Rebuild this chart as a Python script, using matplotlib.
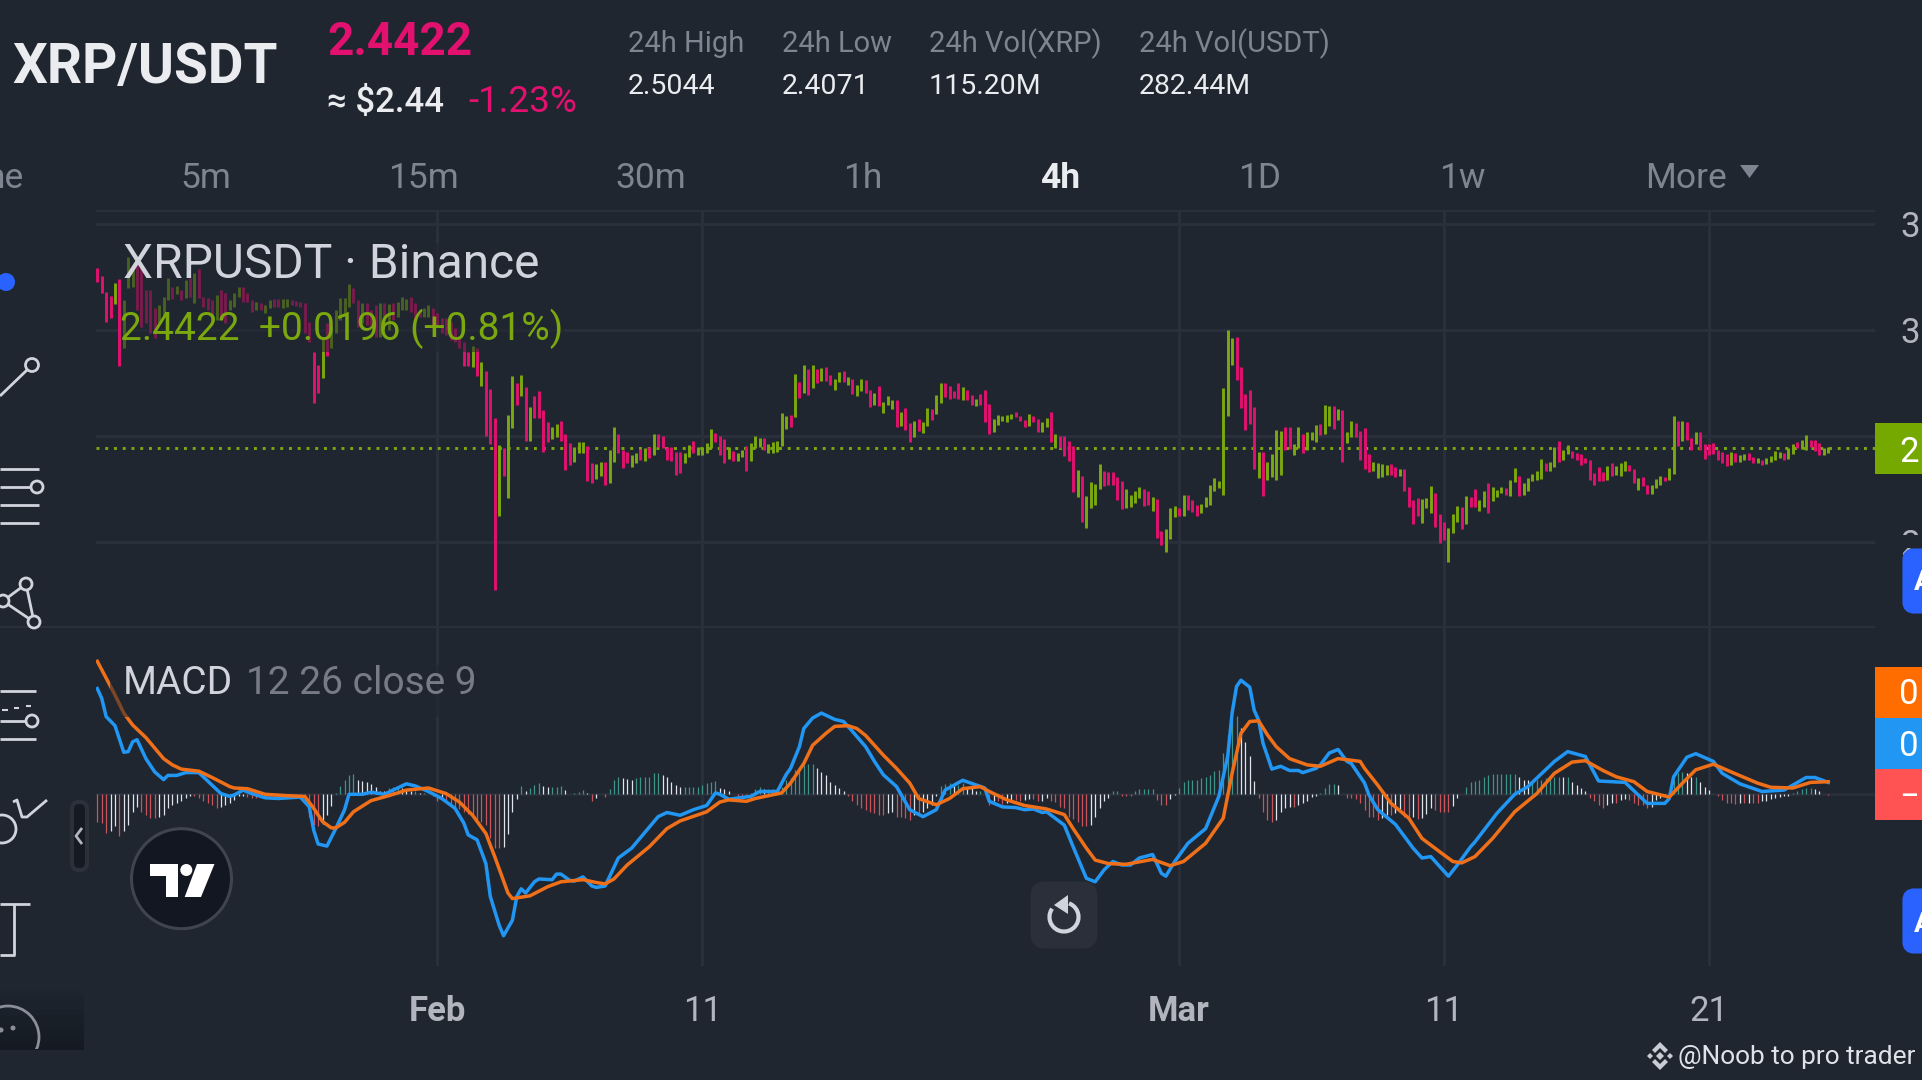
"""XRP/USDT 4h chart screenshot - price bars + MACD pane."""

import matplotlib
matplotlib.use("Agg")
import matplotlib.pyplot as plt
from matplotlib.patches import Circle, Rectangle, Polygon, FancyBboxPatch, Arc

plt.rcParams["font.family"] = ["Roboto", "DejaVu Sans"]

# price bars, one per 4h candle
bar_high = [
    3.291, 3.255, 3.181, 3.160, 3.223, 3.239, 3.141, 3.346, 3.307, 3.330,
    3.291, 3.189, 3.189, 3.102, 3.118, 3.154, 3.244, 3.201, 3.208, 3.189,
    3.236, 3.244, 3.267, 3.286, 3.157, 3.149, 3.141, 3.165, 3.189, 3.173,
    3.141, 3.173, 3.201, 3.201, 3.173, 3.141, 3.134, 3.126, 3.118, 3.141,
    3.145, 3.145, 3.145, 3.145, 3.141, 3.138, 3.134, 3.129, 3.039, 2.898,
    2.835, 2.961, 3.031, 3.016, 3.094, 3.149, 3.149, 3.217, 3.196, 3.141,
    3.126, 3.126, 3.094, 3.118, 3.126, 3.126, 3.123, 3.129, 3.134, 3.154,
    3.145, 3.154, 3.126, 3.094, 3.102, 3.118, 3.102, 3.079, 3.055, 3.055,
    3.039, 3.008, 2.961, 2.945, 2.898, 2.925, 2.913, 2.851, 2.808, 2.720,
    2.583, 2.458, 2.442, 2.599, 2.783, 2.752, 2.788, 2.733, 2.638, 2.689,
    2.712, 2.623, 2.565, 2.544, 2.557, 2.572, 2.510, 2.469, 2.450, 2.470,
    2.470, 2.453, 2.371, 2.368, 2.376, 2.379, 2.434, 2.541, 2.510, 2.434,
    2.426, 2.410, 2.418, 2.437, 2.442, 2.447, 2.510, 2.510, 2.500, 2.450,
    2.447, 2.426, 2.426, 2.418, 2.458, 2.478, 2.447, 2.447, 2.466, 2.532,
    2.513, 2.500, 2.484, 2.450, 2.431, 2.418, 2.434, 2.453, 2.466, 2.500,
    2.489, 2.492, 2.462, 2.473, 2.477, 2.607, 2.594, 2.599, 2.792, 2.756,
    2.835, 2.815, 2.835, 2.815, 2.822, 2.827, 2.788, 2.769, 2.800, 2.808,
    2.777, 2.769, 2.741, 2.769, 2.764, 2.717, 2.701, 2.736, 2.662, 2.689,
    2.670, 2.670, 2.613, 2.632, 2.563, 2.571, 2.579, 2.568, 2.632, 2.629,
    2.693, 2.750, 2.748, 2.736, 2.714, 2.748, 2.730, 2.717, 2.693, 2.676,
    2.698, 2.717, 2.651, 2.579, 2.599, 2.596, 2.599, 2.604, 2.613, 2.594,
    2.576, 2.604, 2.594, 2.579, 2.568, 2.585, 2.613, 2.508, 2.500, 2.500,
    2.477, 2.453, 2.340, 2.311, 2.217, 2.283, 2.272, 2.368, 2.335, 2.329,
    2.329, 2.305, 2.286, 2.250, 2.222, 2.241, 2.260, 2.250, 2.241, 2.212,
    2.203, 2.052, 2.062, 2.161, 2.170, 2.161, 2.222, 2.222, 2.198, 2.173,
    2.179, 2.212, 2.269, 2.302, 2.288, 2.726, 3.000, 2.961, 2.965, 2.824,
    2.698, 2.717, 2.635, 2.425, 2.425, 2.376, 2.415, 2.528, 2.524, 2.544,
    2.544, 2.462, 2.544, 2.510, 2.519, 2.519, 2.552, 2.557, 2.646, 2.642,
    2.642, 2.627, 2.623, 2.519, 2.571, 2.563, 2.525, 2.539, 2.415, 2.377,
    2.371, 2.366, 2.363, 2.368, 2.352, 2.344, 2.344, 2.260, 2.198, 2.208,
    2.205, 2.208, 2.264, 2.230, 2.132, 2.095, 2.066, 2.132, 2.170, 2.165,
    2.217, 2.214, 2.250, 2.198, 2.241, 2.278, 2.260, 2.245, 2.260, 2.253,
    2.293, 2.349, 2.311, 2.278, 2.302, 2.321, 2.333, 2.392, 2.373, 2.377,
    2.450, 2.477, 2.434, 2.458, 2.429, 2.420, 2.415, 2.396, 2.387, 2.326,
    2.354, 2.330, 2.359, 2.373, 2.359, 2.373, 2.382, 2.363, 2.344, 2.302,
    2.307, 2.269, 2.269, 2.297, 2.311, 2.307, 2.349, 2.594, 2.571, 2.571,
    2.566, 2.491, 2.519, 2.519, 2.462, 2.462, 2.467, 2.434, 2.425, 2.415,
    2.425, 2.420, 2.411, 2.415, 2.420, 2.401, 2.396, 2.387, 2.396, 2.406,
    2.429, 2.425, 2.420, 2.444, 2.462, 2.472, 2.481, 2.505, 2.481, 2.481,
    2.467, 2.444, 2.448,
]
bar_low = [
    3.228, 3.176, 3.039, 3.055, 3.123, 2.832, 2.913, 3.196, 3.204, 3.094,
    3.016, 3.031, 2.984, 2.961, 3.031, 3.071, 3.141, 3.145, 3.170, 3.141,
    3.149, 3.157, 3.126, 3.149, 3.110, 3.094, 3.024, 3.047, 3.063, 3.031,
    3.094, 3.110, 3.157, 3.134, 3.134, 3.086, 3.094, 3.094, 3.079, 3.102,
    3.110, 3.110, 3.102, 3.110, 3.118, 3.113, 3.110, 2.984, 2.945, 2.657,
    2.704, 2.775, 2.879, 2.913, 2.984, 3.047, 3.079, 3.110, 3.126, 3.016,
    3.031, 3.024, 3.016, 2.969, 2.969, 3.031, 3.000, 3.047, 3.063, 3.094,
    3.094, 3.086, 3.047, 3.063, 3.063, 3.063, 3.016, 3.024, 2.984, 2.976,
    2.953, 2.945, 2.913, 2.830, 2.830, 2.827, 2.785, 2.738, 2.500, 2.462,
    1.774, 2.124, 2.311, 2.209, 2.539, 2.646, 2.689, 2.478, 2.478, 2.587,
    2.587, 2.426, 2.473, 2.484, 2.497, 2.478, 2.340, 2.363, 2.379, 2.418,
    2.418, 2.289, 2.280, 2.296, 2.313, 2.269, 2.280, 2.379, 2.418, 2.351,
    2.371, 2.355, 2.371, 2.387, 2.384, 2.395, 2.410, 2.447, 2.442, 2.387,
    2.384, 2.316, 2.324, 2.371, 2.403, 2.421, 2.410, 2.410, 2.421, 2.442,
    2.473, 2.410, 2.371, 2.390, 2.384, 2.384, 2.403, 2.335, 2.384, 2.442,
    2.450, 2.434, 2.421, 2.421, 2.426, 2.453, 2.533, 2.541, 2.588, 2.681,
    2.704, 2.693, 2.728, 2.752, 2.760, 2.761, 2.742, 2.717, 2.756, 2.753,
    2.741, 2.698, 2.690, 2.714, 2.704, 2.638, 2.646, 2.642, 2.610, 2.646,
    2.626, 2.544, 2.547, 2.528, 2.473, 2.497, 2.525, 2.513, 2.547, 2.576,
    2.604, 2.657, 2.686, 2.673, 2.678, 2.676, 2.670, 2.670, 2.645, 2.642,
    2.646, 2.568, 2.510, 2.519, 2.552, 2.571, 2.568, 2.579, 2.588, 2.572,
    2.541, 2.547, 2.568, 2.519, 2.519, 2.541, 2.473, 2.442, 2.442, 2.406,
    2.382, 2.236, 2.214, 2.096, 2.066, 2.159, 2.175, 2.250, 2.264, 2.271,
    2.269, 2.198, 2.156, 2.159, 2.167, 2.186, 2.206, 2.172, 2.175, 2.148,
    2.018, 1.986, 1.955, 2.014, 2.120, 2.123, 2.123, 2.151, 2.143, 2.123,
    2.135, 2.167, 2.175, 2.241, 2.253, 2.222, 2.594, 2.835, 2.764, 2.634,
    2.528, 2.557, 2.346, 2.302, 2.217, 2.293, 2.305, 2.293, 2.316, 2.434,
    2.437, 2.411, 2.442, 2.421, 2.434, 2.481, 2.473, 2.505, 2.510, 2.547,
    2.532, 2.576, 2.377, 2.469, 2.494, 2.497, 2.387, 2.343, 2.330, 2.337,
    2.304, 2.308, 2.316, 2.316, 2.308, 2.311, 2.242, 2.167, 2.085, 2.123,
    2.091, 2.159, 2.135, 2.073, 1.997, 2.010, 1.907, 2.044, 2.096, 2.063,
    2.085, 2.167, 2.167, 2.148, 2.167, 2.139, 2.195, 2.214, 2.230, 2.222,
    2.217, 2.282, 2.217, 2.222, 2.242, 2.286, 2.293, 2.297, 2.337, 2.335,
    2.355, 2.377, 2.387, 2.415, 2.398, 2.387, 2.363, 2.371, 2.293, 2.269,
    2.288, 2.288, 2.293, 2.311, 2.316, 2.311, 2.335, 2.333, 2.277, 2.245,
    2.264, 2.227, 2.227, 2.253, 2.269, 2.288, 2.293, 2.321, 2.453, 2.477,
    2.481, 2.434, 2.462, 2.434, 2.392, 2.411, 2.415, 2.387, 2.371, 2.359,
    2.363, 2.377, 2.377, 2.387, 2.387, 2.371, 2.371, 2.363, 2.368, 2.377,
    2.387, 2.396, 2.387, 2.392, 2.415, 2.444, 2.439, 2.434, 2.450, 2.429,
    2.411, 2.411, 2.420,
]
# bars that closed above their open, the rest are down bars
up_bars = {
    4, 6, 7, 8, 14, 15, 16, 18, 20, 22, 27, 30, 31, 32, 36, 38, 39, 42, 43,
    51, 53, 54, 55, 56, 57, 60, 64, 66, 68, 69, 70, 74, 75, 85, 87, 91, 93,
    94, 96, 98, 103, 104, 108, 109, 110, 113, 114, 116, 117, 121, 122, 124,
    126, 133, 134, 136, 137, 138, 139, 143, 145, 146, 148, 149, 150, 152, 153,
    154, 155, 156, 158, 160, 162, 164, 167, 168, 170, 172, 173, 176, 178, 179,
    180, 182, 185, 187, 188, 190, 191, 196, 199, 203, 204, 205, 206, 207, 211,
    214, 215, 217, 222, 224, 225, 226, 227, 233, 234, 235, 236, 239, 242, 243,
    244, 246, 250, 251, 252, 253, 254, 255, 256, 257, 263, 265, 266, 267, 268,
    271, 272, 274, 275, 276, 278, 279, 281, 283, 284, 289, 290, 291, 292, 295,
    300, 301, 302, 306, 307, 308, 310, 313, 314, 316, 317, 318, 320, 321, 323,
    324, 325, 326, 327, 329, 330, 332, 333, 342, 344, 345, 346, 349, 352, 353,
    354, 356, 357, 359, 362, 370, 372, 373, 376, 378, 379, 380, 381, 383, 384,
    386, 387, 391, 392,
}
last_price = 2.4422

# MACD histogram, one per bar
hist_values = [
    -0.039, -0.041, -0.055, -0.053, -0.046, -0.060, -0.052, -0.044, -0.025, -0.018,
    -0.025, -0.030, -0.034, -0.034, -0.032, -0.030, -0.020, -0.015, -0.013, -0.010,
    -0.006, -0.003, -0.003, -0.006, -0.009, -0.013, -0.016, -0.019, -0.018, -0.016,
    -0.013, -0.008, -0.003, -0.002, -0.004, -0.006, -0.006, -0.004, -0.004, -0.004,
    -0.004, -0.003, -0.003, -0.003, -0.006, -0.006, -0.007, -0.008, -0.032, -0.044,
    -0.046, -0.042, -0.030, -0.017, 0.002, 0.012, 0.020, 0.028, 0.029, 0.021,
    0.019, 0.017, 0.015, 0.010, 0.005, 0.004, 0.009, 0.010, 0.011, 0.009,
    0.006, 0.004, 0.004, 0.002, 0.002, 0.001, -0.003, -0.009, -0.007, -0.011,
    -0.014, -0.018, -0.021, -0.026, -0.028, -0.033, -0.037, -0.039, -0.044, -0.063,
    -0.077, -0.077, -0.076, -0.057, -0.025, -0.007, 0.012, 0.004, 0.009, 0.013,
    0.016, 0.012, 0.010, 0.010, 0.011, 0.012, 0.006, 0.001, 0.002, 0.003,
    0.006, 0.002, -0.009, -0.006, 0.001, -0.004, 0.008, 0.020, 0.024, 0.023,
    0.022, 0.021, 0.023, 0.024, 0.024, 0.024, 0.030, 0.030, 0.028, 0.024,
    0.018, 0.013, 0.011, 0.011, 0.011, 0.011, 0.011, 0.013, 0.016, 0.018,
    0.019, 0.009, 0.008, 0.005, 0.001, -0.003, -0.003, -0.004, 0.002, 0.007,
    0.010, 0.007, 0.007, 0.007, 0.009, 0.011, 0.020, 0.023, 0.034, 0.037,
    0.042, 0.043, 0.043, 0.037, 0.032, 0.028, 0.018, 0.013, 0.009, 0.005,
    -0.003, -0.010, -0.015, -0.019, -0.023, -0.025, -0.027, -0.030, -0.030, -0.027,
    -0.026, -0.032, -0.033, -0.034, -0.037, -0.030, -0.030, -0.025, -0.020, -0.015,
    -0.003, 0.012, 0.015, 0.016, 0.013, 0.013, 0.016, 0.011, 0.009, 0.004,
    0.004, 0.000, -0.015, -0.010, -0.010, -0.014, -0.013, -0.008, -0.008, -0.010,
    -0.008, -0.007, -0.007, -0.010, -0.009, -0.006, -0.010, -0.011, -0.018, -0.020,
    -0.032, -0.036, -0.039, -0.045, -0.046, -0.044, -0.032, -0.020, -0.010, -0.006,
    0.005, 0.005, -0.003, -0.003, -0.003, 0.004, 0.008, 0.008, 0.008, 0.008,
    -0.008, -0.015, -0.016, -0.007, -0.001, 0.009, 0.017, 0.020, 0.020, 0.021,
    0.023, 0.024, 0.028, 0.033, 0.035, 0.059, 0.085, 0.104, 0.112, 0.094,
    0.075, 0.055, 0.019, -0.006, -0.025, -0.037, -0.039, -0.037, -0.025, -0.020,
    -0.018, -0.018, -0.015, -0.013, -0.010, -0.004, -0.002, 0.002, 0.009, 0.014,
    0.014, 0.013, 0.000, -0.006, -0.006, -0.007, -0.013, -0.023, -0.032, -0.033,
    -0.037, -0.034, -0.030, -0.030, -0.027, -0.025, -0.033, -0.034, -0.032, -0.036,
    -0.034, -0.028, -0.020, -0.022, -0.025, -0.025, -0.025, -0.017, -0.006, 0.001,
    0.011, 0.017, 0.019, 0.021, 0.024, 0.028, 0.029, 0.029, 0.029, 0.029,
    0.029, 0.029, 0.024, 0.021, 0.020, 0.020, 0.020, 0.020, 0.023, 0.024,
    0.025, 0.025, 0.024, 0.024, 0.018, 0.013, 0.009, 0.005, -0.006, -0.010,
    -0.016, -0.019, -0.015, -0.013, -0.013, -0.008, -0.007, -0.008, -0.013, -0.015,
    -0.015, -0.019, -0.018, -0.008, -0.006, -0.003, -0.003, 0.020, 0.031, 0.032,
    0.030, 0.024, 0.025, 0.018, 0.011, 0.006, 0.001, -0.003, -0.008, -0.013,
    -0.013, -0.014, -0.013, -0.013, -0.012, -0.012, -0.012, -0.010, -0.009, -0.007,
    -0.006, -0.004, -0.003, -0.002, 0.002, 0.004, 0.007, 0.009, 0.009, 0.007,
    0.004, 0.000, -0.001,
]

# MACD line read at its turning points
macd_idx = [
    0, 1, 2, 4, 6, 7, 8, 9, 11, 13, 15, 16, 18, 20, 21, 23, 26, 28, 30, 31, 33,
    35, 38, 41, 46, 48, 49, 50, 52, 54, 56, 57, 60, 62, 65, 67, 70, 72, 75, 78,
    81, 83, 84, 86, 88, 89, 91, 92, 94, 95, 96, 97, 99, 100, 103, 104, 105, 107,
    108, 110, 112, 113, 115, 118, 121, 127, 129, 132, 135, 138, 140, 141, 143,
    148, 150, 154, 156, 157, 159, 160, 162, 164, 167, 169, 171, 174, 176, 178,
    181, 184, 187, 190, 192, 196, 201, 202, 205, 208, 210, 212, 214, 215, 219,
    221, 224, 226, 228, 230, 232, 234, 236, 239, 241, 242, 244, 247, 251, 254,
    256, 257, 258, 259, 261, 262, 263, 264, 266, 268, 270, 272, 273, 276, 277,
    279, 281, 283, 284, 287, 288, 290, 294, 298, 300, 302, 304, 306, 308, 311,
    312, 317, 321, 324, 330, 333, 337, 340, 346, 351, 355, 356, 357, 360, 362,
    366, 368, 372, 377, 382, 387, 389, 392,
]
macd_values = [
    0.151, 0.137, 0.111, 0.098, 0.060, 0.061, 0.075, 0.078, 0.051, 0.032, 0.021,
    0.027, 0.027, 0.031, 0.031, 0.031, 0.013, 0.001, -0.003, -0.001, 0.006,
    0.001, -0.005, -0.006, -0.004, -0.018, -0.051, -0.071, -0.074, -0.049, -0.022,
    0.000, 0.000, 0.003, 0.000, 0.006, 0.015, 0.012, 0.004, -0.006,
    -0.020, -0.041, -0.058, -0.065, -0.099, -0.146, -0.187, -0.202, -0.180, -0.146,
    -0.135, -0.141, -0.125, -0.121, -0.122, -0.114, -0.114, -0.123,
    -0.124, -0.118, -0.131, -0.133, -0.131, -0.091, -0.077, -0.032, -0.026, -0.030,
    -0.022, -0.016, 0.002, 0.000, -0.007,
    -0.003, 0.004, 0.004, 0.028, 0.037, 0.068, 0.094, 0.109, 0.116, 0.107, 0.104,
    0.090, 0.068, 0.047, 0.028,
    0.011, -0.022, -0.032, -0.022, 0.006, 0.020, 0.009, -0.010, -0.018, -0.019,
    -0.022, -0.021, -0.026, -0.025, -0.044,
    -0.075, -0.120, -0.125, -0.108, -0.096, -0.101, -0.101, -0.091, -0.086, -0.113,
    -0.117, -0.096, -0.070, -0.049, -0.003,
    0.054, 0.116, 0.154, 0.163, 0.153, 0.120, 0.106, 0.073, 0.036, 0.040, 0.034,
    0.034, 0.031, 0.037, 0.042,
    0.059, 0.064, 0.047, 0.044, 0.016, -0.001, -0.022, -0.043, -0.077, -0.091,
    -0.089, -0.103, -0.117, -0.101, -0.075,
    -0.068, -0.027, 0.000, 0.011, 0.047, 0.061, 0.054, 0.019, 0.017, -0.013, -0.013,
    -0.006, 0.025, 0.053, 0.058,
    0.047, 0.030, 0.015, 0.004, 0.006, 0.024, 0.024, 0.017,
]

# signal line read the same way
signal_idx = [
    0, 2, 4, 6, 8, 9, 11, 15, 17, 19, 23, 26, 30, 31, 34, 38, 43, 47, 49, 51, 53,
    54, 56, 58, 62, 66, 70, 75, 79, 82, 85, 88, 90, 93, 94, 98, 102, 105, 110,
    113, 115, 117, 120, 125, 129, 132, 138, 141, 143,
    147, 149, 155, 157, 160, 162, 165, 167, 170, 172, 174, 178, 181, 184, 186,
    190, 193, 196, 200, 202, 206, 210, 215, 219, 221, 224, 226, 229, 233, 239,
    243, 246, 251, 255, 257, 259, 261, 263, 265, 267, 270, 274, 277, 281, 286,
    287, 290, 293, 297, 300, 304, 307, 309, 312, 316, 321, 326, 330, 334, 337,
    341, 344, 348, 351, 356, 359, 362, 366, 370, 376, 379, 384, 388, 392,
]
signal_values = [
    0.190, 0.166, 0.142, 0.116, 0.099, 0.093, 0.081, 0.051, 0.042, 0.036, 0.033,
    0.024, 0.011, 0.009, 0.008, 0.000, -0.002, -0.003, -0.020, -0.039, -0.048,
    -0.048, -0.040, -0.025, -0.009, -0.002, 0.006, 0.009, 0.001, -0.011, -0.030,
    -0.056, -0.089, -0.141, -0.149, -0.145, -0.132, -0.125, -0.122,
    -0.126, -0.128, -0.121, -0.101, -0.075, -0.049, -0.038, -0.025, -0.011, -0.008,
    -0.010, -0.006, 0.002, 0.016, 0.044, 0.070, 0.087, 0.097, 0.098, 0.094,
    0.084, 0.056, 0.037, 0.016, -0.006,
    -0.015, -0.006, 0.008, 0.011, 0.004, -0.008, -0.016, -0.021, -0.029, -0.049,
    -0.077, -0.094, -0.099, -0.100, -0.093,
    -0.102, -0.096, -0.070, -0.034, 0.030, 0.087, 0.104, 0.105, 0.085, 0.068,
    0.051, 0.042, 0.040, 0.051, 0.047,
    0.037, 0.013, -0.013, -0.034, -0.063, -0.082, -0.096, -0.098, -0.089, -0.063,
    -0.025, 0.001, 0.030, 0.046, 0.048,
    0.034, 0.025, 0.018, 0.004, -0.004, 0.016, 0.035, 0.043, 0.032, 0.016, 0.010,
    0.009, 0.017, 0.018,
]

date_ticks = [77, 137, 245, 305, 365]
date_labels = ["Feb", "11", "Mar", "11", "21"]
price_grid = [3.5, 3.0, 2.5, 2.0]
# the 2.5 label sits behind the last price tag
price_labels = ["3", "3", "", "2"]

stat_names = ["24h High", "24h Low", "24h Vol(XRP)", "24h Vol(USDT)"]
stat_values = ["2.5044", "2.4071", "115.20M", "282.44M"]
stat_x = [628, 782, 929, 1139]
tab_names = ["5m", "15m", "30m", "1h", "4h", "1D", "1w"]
tab_x = [206, 423, 651, 863, 1060, 1260, 1462]

BG = "#1f2630"
GRID = "#2a303b"
GREEN = "#7aa80e"
PINK = "#e2116f"
MUTED = "#7d8590"
SOFT = "#d1d4dc"
W, H = 1922, 1080


def px_axes(fig, left, top, right, bottom):
    """Axes placed by screenshot pixels."""
    return fig.add_axes([left / W, 1 - bottom / H, (right - left) / W, (bottom - top) / H])


fig = plt.figure(figsize=(W / 100, H / 100), dpi=100, facecolor=BG)

# ─── price pane ──────────────────────────────────────────────────────
ax_price = px_axes(fig, 96, 212, 1875, 627)
ax_price.set_facecolor(BG)
ax_price.set_xlim(-0.3, 402.6)
ax_price.set_ylim(1.599, 3.5566)
for spine in ax_price.spines.values():
    spine.set_visible(False)
ax_price.set_xticks(date_ticks)
ax_price.set_yticks(price_grid)
ax_price.set_yticklabels(price_labels)
ax_price.tick_params(axis="x", length=0, labelbottom=False)
ax_price.yaxis.tick_right()
ax_price.tick_params(axis="y", length=0, pad=18, labelsize=25, labelcolor="#b2b5be")
ax_price.grid(True, color=GRID, linewidth=2.2)
ax_price.set_axisbelow(True)

bar_x = list(range(len(bar_high)))
bar_colors = [GREEN if i in up_bars else PINK for i in bar_x]
ax_price.vlines(bar_x, bar_low, bar_high, colors=bar_colors, linewidth=2.1, zorder=3)
ax_price.axhline(last_price, xmax=0.9999, color=GREEN, linewidth=2.1,
                 linestyle=(0, (1, 2)), dash_capstyle="butt", zorder=2)

# ─── MACD pane ───────────────────────────────────────────────────────
ax_macd = px_axes(fig, 96, 627, 1875, 966)
ax_macd.set_facecolor(BG)
ax_macd.set_xlim(-0.3, 402.6)
ax_macd.set_ylim(-0.2453, 0.239)
for spine in ax_macd.spines.values():
    spine.set_visible(False)
ax_macd.set_yticks([])
ax_macd.set_xticks(date_ticks)
ax_macd.set_xticklabels(date_labels)
ax_macd.tick_params(axis="x", length=0, pad=21, labelsize=25, labelcolor="#b2b5be")
for tick_label in ax_macd.get_xticklabels():
    if tick_label.get_text() in ("Feb", "Mar"):
        tick_label.set_fontweight("bold")
ax_macd.grid(True, axis="x", color=GRID, linewidth=2.2)
ax_macd.set_axisbelow(True)
ax_macd.axhline(0, color=GRID, linewidth=2, zorder=1)

hist_colors = []
for i, v in enumerate(hist_values):
    prev = hist_values[i - 1] if i else v
    if v >= 0:
        hist_colors.append("#3f9489" if v >= prev else "#dfe5ea")
    else:
        hist_colors.append("#c8555b" if v <= prev else "#dfe5ea")
ax_macd.vlines(bar_x, 0, hist_values, colors=hist_colors, linewidth=0.9, zorder=2)
ax_macd.plot(macd_idx, macd_values, color="#2196f3", linewidth=2.5, zorder=3,
             solid_joinstyle="round")
ax_macd.plot(signal_idx, signal_values, color="#f0701a", linewidth=2.5, zorder=4,
             solid_joinstyle="round")

# ─── screen furniture on top, in pixels ──────────────────────────────
ui = fig.add_axes([0, 0, 1, 1], zorder=10)
ui.set_xlim(0, W)
ui.set_ylim(H, 0)
ui.axis("off")
ui.patch.set_alpha(0)


def box(x0, y0, x1, y1, color, alpha=1.0, z=2):
    ui.add_patch(Rectangle((x0, y0), x1 - x0, y1 - y0, facecolor=color,
                           edgecolor="none", alpha=alpha, zorder=z))


def label(x, y, text, size, color, weight="normal", ha="left", va="center"):
    return ui.text(x, y, text, fontsize=size, color=color, fontweight=weight, ha=ha, va=va, zorder=6)


def stroke(xs, ys, color=SOFT, lw=2.0):
    ui.plot(xs, ys, color=color, linewidth=lw, zorder=5, solid_capstyle="butt")


def ring(x, y, r, color=SOFT, lw=2.0, face="none"):
    ui.add_patch(Circle((x, y), r, facecolor=face, edgecolor=color, linewidth=lw, zorder=5))


# header
label(12, 68, "XRP/USDT", 39.5, "#eaecef", "bold")
label(327, 42, "2.4422", 33, PINK, "bold")
label(327, 102, "≈ $2.44", 25, "#eaecef", "medium")
label(468, 102, "-1.23%", 26.5, PINK)
for name, value, x in zip(stat_names, stat_values, stat_x):
    label(x, 44, name, 21, MUTED)
    label(x, 87, value, 20.5, "#eaecef")

# interval tabs
label(24, 179, "ne", 25.5, MUTED, ha="right")
for name, x in zip(tab_names, tab_x):
    if name == "4h":
        label(x, 179, name, 25.5, "#eaecef", "bold", ha="center")
    else:
        label(x, 179, name, 25.5, MUTED, ha="center")
label(1645, 179, "More", 25.5, MUTED)
ui.add_patch(Polygon([(1740, 165), (1759, 165), (1749.5, 178)], facecolor=MUTED, zorder=5))
box(96, 210, 1875, 212, GRID)
box(0, 626, 1875, 628, GRID)

# legends dim what runs behind them
box(121, 243, 565, 352, BG, alpha=0.55)
box(110, 665, 485, 717, BG, alpha=0.55)
label(123, 265, "XRPUSDT · Binance", 34.5, SOFT)
label(120, 329, "2.4422  +0.0196 (+0.81%)", 28, GREEN)
label(123, 683, "MACD", 28, SOFT)
label(246, 683, "12 26 close 9", 28, "#787b86")

# price scale tags
box(1875, 423, W, 474, "#76a900")
label(1899, 452, "2", 25, "white")
# only the top of the 2.00 label shows above the blue button
box(1877, 535, W, 548, BG, z=3)
ui.add_patch(FancyBboxPatch((1908, 554), 30, 54, boxstyle="round,pad=0,rounding_size=6",
                            mutation_aspect=1, facecolor="#2962ff", edgecolor="#2962ff",
                            linewidth=8, zorder=4))
label(1914, 582, "A", 20, "white", "bold")
box(1875, 667, W, 718, "#ff6d00")
box(1875, 718, W, 769, "#2196f3")
box(1875, 769, W, 820, "#ff5252")
label(1899, 695, "0", 25, "white")
label(1899, 746, "0", 25, "white")
label(1899, 798, "−", 25, "white")
ui.add_patch(FancyBboxPatch((1908, 894), 30, 54, boxstyle="round,pad=0,rounding_size=6",
                            mutation_aspect=1, facecolor="#2962ff", edgecolor="#2962ff",
                            linewidth=8, zorder=4))
label(1914, 925, "A", 20, "white", "bold")

# drawing tools down the left edge
ui.add_patch(Circle((6, 282), 9, facecolor="#2962ff", edgecolor="none", zorder=5))
stroke([0, 27], [396, 370])
ring(32, 365, 6.5, face=BG)
for y in (469, 505, 523):
    stroke([0, 39], [y, y])
stroke([0, 31], [487, 487])
ring(37, 487, 6, face=BG)
stroke([3, 26, 34, 3], [601, 584, 622, 601])
ring(3, 601, 6, face=BG)
ring(26, 584, 6, face=BG)
ring(34, 622, 6, face=BG)
for y in (691, 739):
    stroke([0, 36], [y, y])
stroke([0, 26], [721, 721])
ring(32, 721, 6, face=BG)
stroke([2, 8], [710, 710], lw=1.5)
stroke([14, 19], [708, 708], lw=1.5)
stroke([26, 31], [706, 706], lw=1.5)
ring(2, 829, 14)
stroke([13, 17, 22, 27, 47], [802, 800, 817, 817, 800])
stroke([0, 30], [904, 904])
stroke([14, 14], [904, 955])
stroke([0, 15], [955, 955])

# emoji button, fading in towards the bottom
for step in range(12):
    top = 990 + step * 5
    box(0, top, 84, top + 5, "#151a22", alpha=(step + 1) / 12)
smile = Circle((8, 1037), 31, facecolor="none", edgecolor="#8a8f98", linewidth=2, zorder=5)
ui.add_patch(smile)
smile.set_clip_path(Rectangle((0, 990), 84, 59, transform=ui.transData))
ui.add_patch(Circle((13, 1028), 2.5, facecolor="#8a8f98", zorder=5))
ui.add_patch(Circle((1, 1030), 2.5, facecolor="#8a8f98", zorder=5))

# collapse pill
ui.add_patch(FancyBboxPatch((72, 802), 15, 68, boxstyle="round,pad=0,rounding_size=7",
                            facecolor="#141922", edgecolor="#2b303a", linewidth=3, zorder=4))
stroke([82, 76, 82], [828, 836, 844], color="#b2b5be", lw=2)

# TradingView badge
ring(181.5, 878.7, 50, color="#3f444f", lw=2.2, face="#131722")
ui.add_patch(Polygon([(150, 864), (177.8, 864), (177.8, 897), (165.5, 897), (165.5, 876), (150, 876)],
                     facecolor="white", zorder=6))
ui.add_patch(Circle((186.3, 870), 6, facecolor="white", zorder=6))
ui.add_patch(Polygon([(197, 864), (214.5, 864), (201, 897), (184.7, 897)], facecolor="white", zorder=6))

# reset button
ui.add_patch(FancyBboxPatch((1036, 887), 56, 56, boxstyle="round,pad=0,rounding_size=9",
                            facecolor="#2a2f3a", edgecolor="#2a2f3a", linewidth=8, zorder=4))
ui.add_patch(Arc((1064, 917), 29, 29, theta1=-70, theta2=215, color=SOFT, linewidth=3, zorder=6))
ui.add_patch(Polygon([(1054, 905), (1068, 895), (1068, 914)], facecolor=SOFT, zorder=6))

# watermark
label(1678, 1057, "@Noob to pro trader", 18.9, "#dfe2e8")
cx, cy = 1660, 1056
ui.add_patch(Polygon([(cx, cy - 4), (cx + 4, cy), (cx, cy + 4), (cx - 4, cy)], facecolor="#c9ccd4", zorder=6))
ui.add_patch(Polygon([(cx - 13, cy), (cx - 10, cy - 3), (cx - 7, cy), (cx - 10, cy + 3)], facecolor="#c9ccd4", zorder=6))
ui.add_patch(Polygon([(cx + 13, cy), (cx + 10, cy - 3), (cx + 7, cy), (cx + 10, cy + 3)], facecolor="#c9ccd4", zorder=6))
ui.add_patch(Polygon([(cx, cy - 14), (cx + 8, cy - 6), (cx + 5, cy - 3), (cx, cy - 8), (cx - 5, cy - 3), (cx - 8, cy - 6)],
                     facecolor="#c9ccd4", zorder=6))
ui.add_patch(Polygon([(cx, cy + 14), (cx + 8, cy + 6), (cx + 5, cy + 3), (cx, cy + 8), (cx - 5, cy + 3), (cx - 8, cy + 6)],
                     facecolor="#c9ccd4", zorder=6))

fig.savefig("out.png", dpi=100, facecolor=BG)
plt.close(fig)
